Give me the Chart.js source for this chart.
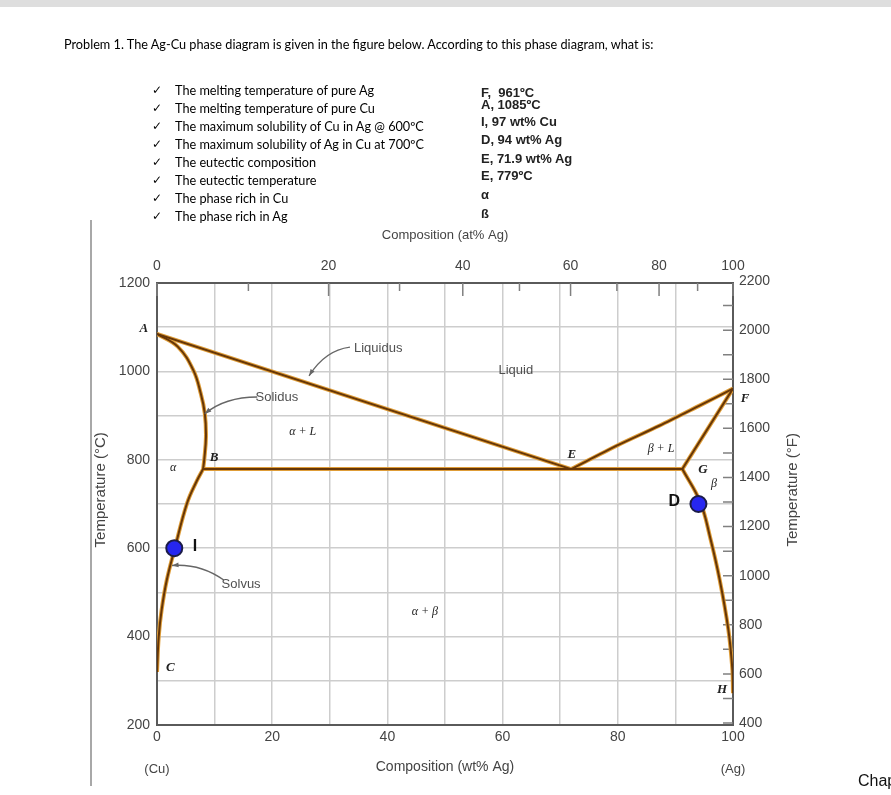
<!DOCTYPE html>
<html>
<head>
<meta charset="utf-8">
<script src="https://cdn.jsdelivr.net/npm/chart.js@4.4.0/dist/chart.umd.min.js"></script>
<style>
  html, body { margin: 0; padding: 0; background: #fff; width: 891px; height: 795px; overflow: hidden; }
  #topbar { position: absolute; left: 0; top: 0; width: 891px; height: 7px; background: #dedede; }
  #chart { position: absolute; left: 0; top: 0; }
  #rule { position: absolute; left: 90px; top: 220px; width: 2px; height: 566px; background: #a8a8a8; }
  .q { position: absolute; font-family: Lato, "Open Sans", sans-serif; font-size: 12.7px; line-height: 14px; color: #000; white-space: nowrap; }
  .chk { position: absolute; font-family: "DejaVu Sans", sans-serif; font-size: 12px; line-height: 14px; color: #000; }
  .ans { position: absolute; font-family: "Liberation Sans", Arial, sans-serif; font-weight: bold; font-size: 13px; line-height: 14px; color: #222; white-space: pre; }
  #cha { position: absolute; left: 858px; top: 772px; font-family: "Liberation Sans", Arial, sans-serif; font-size: 16px; color: #111; white-space: nowrap; }
</style>
</head>
<body>
<div id="topbar"></div>
<canvas id="chart" width="891" height="795"></canvas>
<div id="rule"></div>
<div class="q" style="left:64px; top:37px;">Problem 1. The Ag-Cu phase diagram is given in the figure below. According to this phase diagram, what is:</div>
<div id="list"></div>
<div id="cha">Chapter</div>
<script>
// questions and answers
const questions = [
  'The melting temperature of pure Ag',
  'The melting temperature of pure Cu',
  'The maximum solubility of Cu in Ag @ 600ºC',
  'The maximum solubility of Ag in Cu at 700ºC',
  'The eutectic composition',
  'The eutectic temperature',
  'The phase rich in Cu',
  'The phase rich in Ag'
];
const answers = ['F,  961ºC', 'A, 1085ºC', 'I, 97 wt% Cu', 'D, 94 wt% Ag', 'E, 71.9 wt% Ag', 'E, 779ºC', 'α', 'ß'];
const answerRows = [93, 105, 122, 140, 159, 176, 195, 214];

// phase boundaries, [wt% Ag, °C]
const liquidusCu = [[0, 1085], [71.9, 779]];
const solidusCu = [[0, 1085], [3.6, 1056], [6.3, 1003], [7.6, 950], [8.3, 905], [8.5, 852], [8.2, 800], [8.0, 779]];
const solvusCu = [[8.0, 779], [6.9, 752], [5.2, 701], [3.1, 600], [1.7, 528], [0.8, 460], [0.3, 400], [0, 320]];
const eutectic = [[8.0, 779], [91.2, 779]];
const liquidusAg = [[71.9, 779], [80, 833], [87.2, 877], [94.1, 922], [100, 961]];
const solidusAg = [[91.2, 779], [100, 961]];
const solvusAg = [[91.2, 779], [94.3, 705], [96, 626], [97.7, 528], [99.2, 415], [99.9, 324], [100, 272]];
const markers = [[3, 600], [94, 700]];

// axes
const wtTicks = [0, 10, 20, 30, 40, 50, 60, 70, 80, 90, 100];
const wtLabels = [0, 20, 40, 60, 80, 100];
const atTicks = [0, 10, 20, 30, 40, 50, 60, 70, 80, 90, 100];
const atLabels = [0, 20, 40, 60, 80, 100];
const cTicks = [200, 300, 400, 500, 600, 700, 800, 900, 1000, 1100, 1200];
const cLabels = [200, 400, 600, 800, 1000, 1200];
const fTicks = [400, 500, 600, 700, 800, 900, 1000, 1100, 1200, 1300, 1400, 1500, 1600, 1700, 1800, 1900, 2000, 2100, 2200];
const fLabels = [400, 600, 800, 1000, 1200, 1400, 1600, 1800, 2000, 2200];

// labels on the diagram, [text, wt% Ag, °C]
const pointNames = [['A', -2.3, 1096], ['B', 9.9, 804], ['C', 2.3, 329], ['E', 72.0, 811], ['F', 102.1, 938], ['G', 94.8, 777], ['H', 98.1, 279]];
const phaseNames = [['α', 2.8, 781], ['β', 96.7, 745], ['α + L', 25.3, 863], ['β + L', 87.5, 824], ['α + β', 46.5, 456]];
const regionNames = [['Liquid', 62.3, 1003], ['Liquidus', 38.4, 1053], ['Solidus', 20.8, 940], ['Solvus', 14.6, 517]];
const markerNames = [['I', 6.6, 603], ['D', 89.8, 705]];
const arrows = [
  [[33.5, 1055], [29.2, 1048], [26.4, 990]],
  [[17.4, 942], [11.8, 942], [8.3, 904]],
  [[11.6, 528], [7.5, 566], [2.6, 561]]
];

const AG = 107.87, CU = 63.55;
const atToWt = a => 100 * a * AG / (a * AG + (100 - a) * CU);
const cToF = c => c * 1.8 + 32;

// question block
const list = document.getElementById('list');
questions.forEach((q, i) => {
  const y = 89.5 + 18 * i - 7;
  list.insertAdjacentHTML('beforeend',
    `<div class="chk" style="left:152px; top:${y}px;">✓</div>` +
    `<div class="q" style="left:175px; top:${y}px;">${q}</div>` +
    `<div class="ans" style="left:481px; top:${answerRows[i] - 7}px;">${answers[i]}</div>`);
});

const toXY = arr => arr.map(([x, y]) => ({x, y}));
const curves = [liquidusCu, solidusCu, solvusCu, eutectic, liquidusAg, solidusAg, solvusAg];
const tensions = [0, 0.4, 0.4, 0, 0.3, 0, 0.4];

const datasets = curves.flatMap((pts, i) => [
  {data: toXY(pts), showLine: true, pointRadius: 0, borderColor: '#df9d38', borderWidth: 4, tension: tensions[i], order: 3},
  {data: toXY(pts), showLine: true, pointRadius: 0, borderColor: '#663607', borderWidth: 2, tension: tensions[i], order: 2}
]);
datasets.push({
  data: toXY(markers), showLine: false, pointRadius: 8, pointHoverRadius: 8,
  pointBackgroundColor: '#2626f0', pointBorderColor: '#1c1c48', pointBorderWidth: 2, order: 0
});

const innerTicks = {
  id: 'innerTicks',
  beforeDatasetsDraw(chart) {
    const {ctx, chartArea: a, scales} = chart;
    ctx.save();
    ctx.strokeStyle = '#808080';
    ctx.lineWidth = 1.5;
    ctx.beginPath();
    atTicks.forEach(t => {
      const x = scales.xAt.getPixelForValue(atToWt(t));
      const len = atLabels.includes(t) ? 13 : 8;
      ctx.moveTo(x, a.top);
      ctx.lineTo(x, a.top + len);
    });
    fTicks.forEach(t => {
      const y = scales.yF.getPixelForValue(t);
      if (y < a.top) return;
      ctx.moveTo(a.right, y);
      ctx.lineTo(a.right - 10, y);
    });
    ctx.stroke();
    ctx.restore();
  }
};

const notes = {
  id: 'notes',
  afterDatasetsDraw(chart) {
    const {ctx, chartArea: a, scales: {x, y}} = chart;
    const px = v => x.getPixelForValue(v), py = v => y.getPixelForValue(v);
    ctx.save();
    ctx.textAlign = 'center';
    ctx.textBaseline = 'middle';

    ctx.fillStyle = '#222';
    ctx.font = 'italic bold 13px "Liberation Serif"';
    pointNames.forEach(([t, wx, wy]) => ctx.fillText(t, px(wx), py(wy)));
    ctx.font = 'italic 12px "Liberation Serif"';
    phaseNames.forEach(([t, wx, wy]) => ctx.fillText(t, px(wx), py(wy)));

    ctx.fillStyle = '#505050';
    ctx.font = '13px "Liberation Sans"';
    regionNames.forEach(([t, wx, wy]) => ctx.fillText(t, px(wx), py(wy)));

    ctx.fillStyle = '#111';
    ctx.font = 'bold 16px "Liberation Sans"';
    markerNames.forEach(([t, wx, wy]) => ctx.fillText(t, px(wx), py(wy)));

    // leader arrows
    ctx.strokeStyle = '#666';
    ctx.fillStyle = '#666';
    ctx.lineWidth = 1.4;
    arrows.forEach(([s, c, e]) => {
      const ex = px(e[0]), ey = py(e[1]), cx = px(c[0]), cy = py(c[1]);
      ctx.beginPath();
      ctx.moveTo(px(s[0]), py(s[1]));
      ctx.quadraticCurveTo(cx, cy, ex, ey);
      ctx.stroke();
      const ang = Math.atan2(ey - cy, ex - cx);
      ctx.beginPath();
      ctx.moveTo(ex, ey);
      ctx.lineTo(ex - 7 * Math.cos(ang - 0.35), ey - 7 * Math.sin(ang - 0.35));
      ctx.lineTo(ex - 7 * Math.cos(ang + 0.35), ey - 7 * Math.sin(ang + 0.35));
      ctx.closePath();
      ctx.fill();
    });

    ctx.fillStyle = '#444';
    ctx.font = '13px "Liberation Sans"';
    ctx.fillText('(Cu)', px(0), a.bottom + 44);
    ctx.fillText('(Ag)', px(100), a.bottom + 44);

    // temperature titles, placed a bit above the axis centre as in the figure
    ctx.font = '15px "Liberation Sans"';
    [['Temperature (°C)', a.left - 56], ['Temperature (°F)', a.right + 60]].forEach(([t, tx]) => {
      ctx.save();
      ctx.translate(tx, py(732));
      ctx.rotate(-Math.PI / 2);
      ctx.fillText(t, 0, 0);
      ctx.restore();
    });
    ctx.restore();
  }
};

const tickFont = {family: '"Liberation Sans", Arial, sans-serif', size: 14};
const axisBorder = {color: '#5a5a5a', width: 2};

new Chart(document.getElementById('chart'), {
  type: 'scatter',
  data: {datasets},
  options: {
    responsive: false,
    animation: false,
    events: [],
    layout: {padding: {left: 91, right: 88, top: 226, bottom: 17}},
    plugins: {legend: {display: false}, tooltip: {enabled: false}},
    scales: {
      x: {
        type: 'linear', position: 'bottom', min: 0, max: 100,
        afterBuildTicks: s => { s.ticks = wtTicks.map(v => ({value: v})); },
        afterFit: s => { s.height = 53; },
        ticks: {autoSkip: false, maxRotation: 0, padding: 4, color: '#444', font: tickFont,
                callback: v => wtLabels.includes(v) ? v : ''},
        grid: {color: '#cdcdcd', lineWidth: 1.5, drawTicks: false},
        border: axisBorder,
        title: {display: true, text: 'Composition (wt% Ag)', color: '#444',
                font: {family: '"Liberation Sans", Arial, sans-serif', size: 14}, padding: {top: 0, bottom: 2}}
      },
      xAt: {
        type: 'linear', position: 'top', min: 0, max: 100,
        afterBuildTicks: s => { s.ticks = atTicks.map(a => ({value: atToWt(a)})); },
        afterFit: s => { s.height = 57; },
        ticks: {autoSkip: false, maxRotation: 0, padding: 8, color: '#444', font: tickFont,
                callback: (v, i) => atLabels.includes(atTicks[i]) ? atTicks[i] : ''},
        grid: {drawOnChartArea: false, drawTicks: false},
        border: axisBorder,
        title: {display: true, text: 'Composition (at% Ag)', color: '#444',
                font: {family: '"Liberation Sans", Arial, sans-serif', size: 13}, padding: {top: 2, bottom: 0}}
      },
      y: {
        type: 'linear', position: 'left', min: 200, max: 1200,
        afterBuildTicks: s => { s.ticks = cTicks.map(v => ({value: v})); },
        afterFit: s => { s.width = 66; },
        ticks: {autoSkip: false, padding: 7, color: '#444', font: tickFont,
                callback: v => cLabels.includes(v) ? v : ''},
        grid: {color: '#cdcdcd', lineWidth: 1.5, drawTicks: false},
        border: axisBorder
      },
      yF: {
        type: 'linear', position: 'right', min: cToF(200), max: cToF(1200),
        afterBuildTicks: s => { s.ticks = fTicks.map(v => ({value: v})); },
        afterFit: s => { s.width = 70; },
        ticks: {autoSkip: false, padding: 6, color: '#444', font: tickFont,
                callback: v => fLabels.includes(v) ? v : ''},
        grid: {drawOnChartArea: false, drawTicks: false},
        border: axisBorder
      }
    }
  },
  plugins: [innerTicks, notes]
});
</script>
</body>
</html>
